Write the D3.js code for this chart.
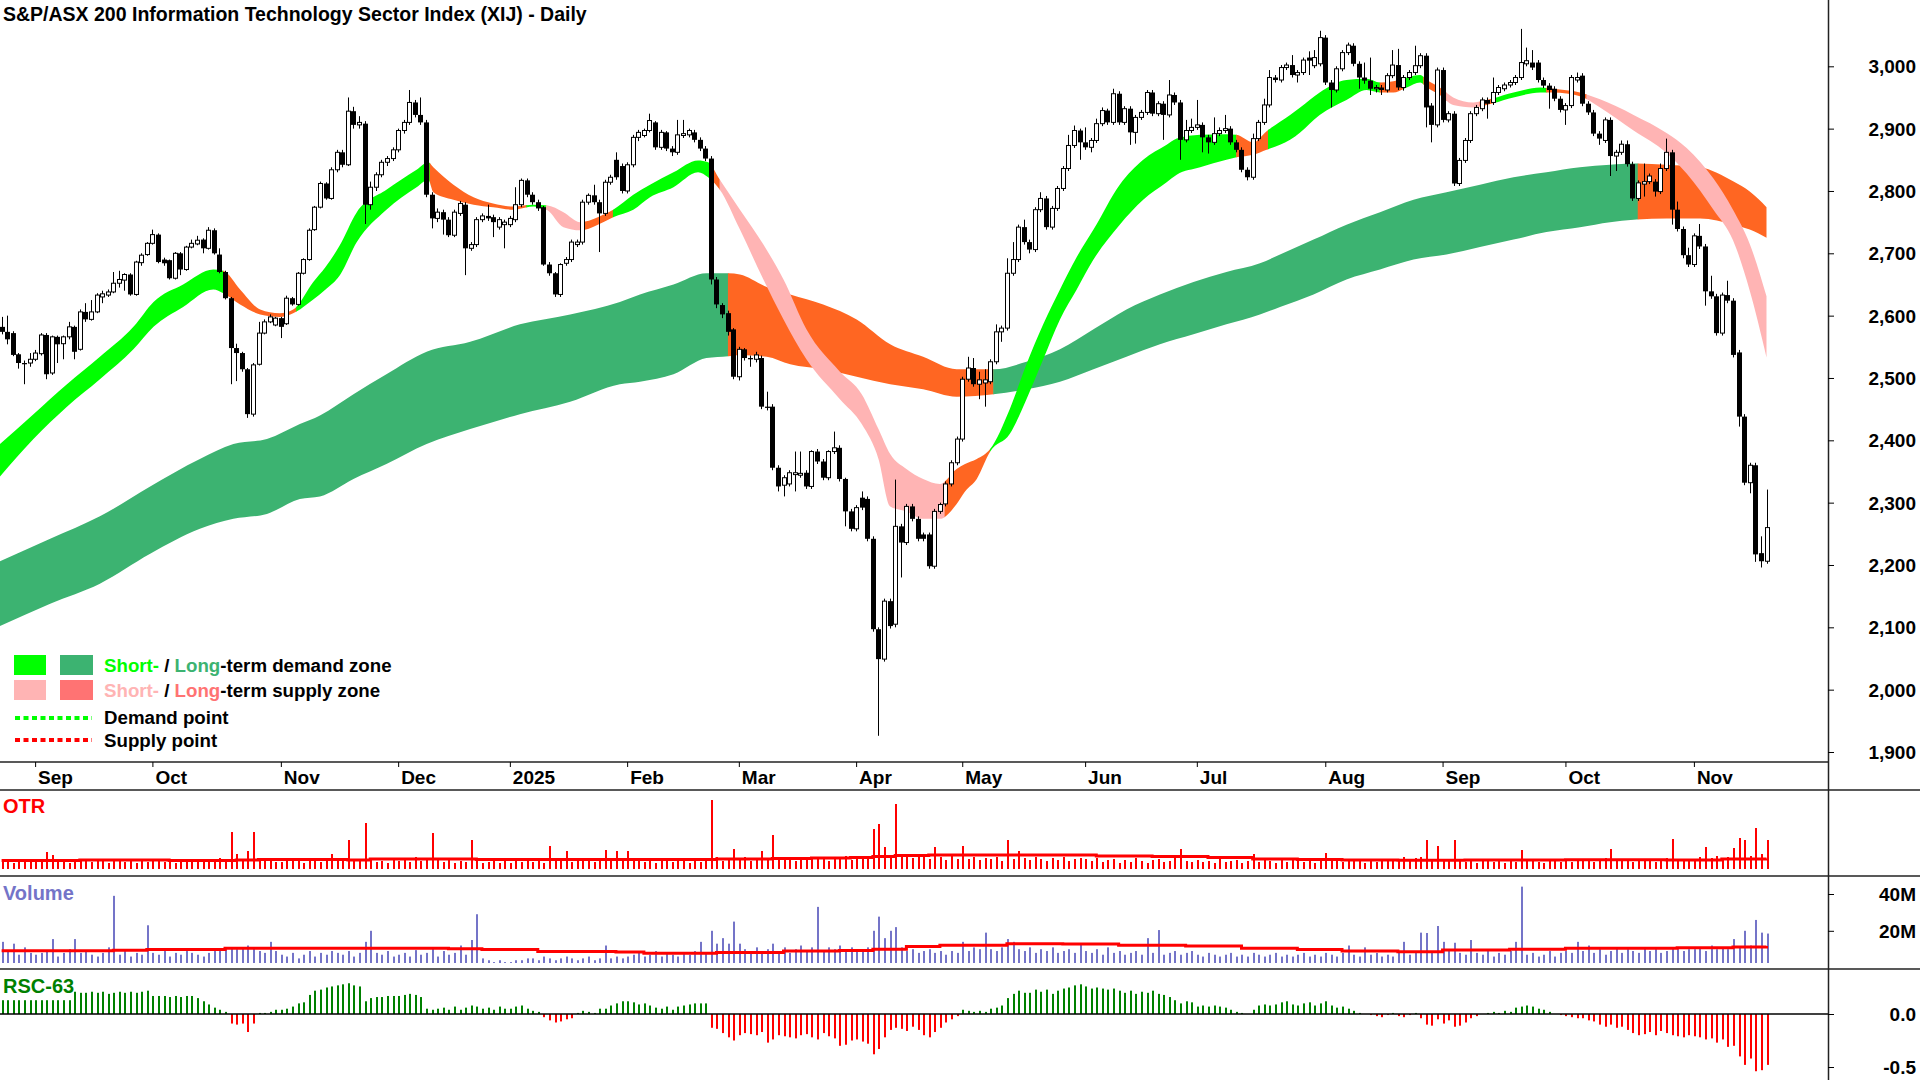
<!DOCTYPE html>
<html>
<head>
<meta charset="utf-8">
<title>S&amp;P/ASX 200 Information Technology Sector Index (XIJ) - Daily</title>
<script src="https://cdn.jsdelivr.net/npm/d3@7"></script>
<style>
  body { margin: 0; background: #fff; }
  svg { display: block; font-family: "Liberation Sans", Arial, sans-serif; }
</style>
</head>
<body>
<svg id="chart" width="1920" height="1080"></svg>
<script>
// trading months on the chart (first one is the tail of Aug 2024, no label)
var monthLabels = ["", "Sep", "Oct", "Nov", "Dec", "2025", "Feb", "Mar", "Apr", "May", "Jun", "Jul", "Aug", "Sep", "Oct", "Nov"];
var monthDays   = [6, 21, 23, 21, 20, 21, 20, 21, 19, 22, 20, 23, 21, 22, 23, 14];

// daily candles, one line per month
var opens = [
  2582,2574,2572,2538,2524,2524,
  2530,2539,2569,2508,2566,2555,2566,2582,2546,2606,2594,2606,2630,2633,2638,2652,2657,2666,2634,2685,2698,
  2716,2730,2690,2689,2660,2700,2674,2710,2715,2722,2708,2737,2698,2670,2628,2548,2540,2514,2442,2522,2572,2590,2585,
  2596,2587,2628,2618,2668,2690,2738,2774,2812,2788,2834,2862,2842,2928,2906,2908,2778,2806,2826,2846,2852,
  2866,2897,2910,2942,2922,2910,2794,2756,2766,2754,2729,2764,2778,2708,2714,2754,2760,2758,2742,2746,
  2746,2754,2778,2817,2794,2782,2774,2682,2668,2634,2684,2690,2714,2718,2782,2793,2782,2764,2814,2850,2840,
  2800,2842,2886,2889,2897,2910,2870,2894,2868,2862,2889,2890,2894,2882,2868,2852,2658,2617,2604,2578,
  2502,2546,2532,2530,2532,2454,2454,2356,2328,2330,2345,2344,2348,2326,2382,2366,2340,2382,2388,2338,2286,
  2258,2308,2306,2242,2097,2049,2142,2105,2262,2236,2294,2274,2249,2249,2198,2286,2298,2330,2364,
  2402,2498,2516,2490,2492,2494,2526,2574,2580,2668,2690,2742,2718,2706,2770,2788,2742,2772,2804,2836,2873,2897,
  2878,2870,2881,2908,2929,2910,2956,2910,2932,2894,2918,2926,2958,2924,2940,2922,2954,2942,2882,2897,
  2902,2906,2886,2878,2892,2897,2900,2878,2866,2834,2822,2884,2910,2938,2982,2978,2998,3002,2986,2990,3014,3001,3004,
  3046,2974,2962,2996,3022,3033,3004,2982,2977,2964,2966,2962,2985,3002,2966,2982,2990,3001,3017,2937,2906,
  2994,2914,2924,2812,2849,2881,2924,2932,2946,2942,2958,2964,2970,2974,2982,3004,3006,3006,2978,2969,2964,2948,
  2930,2937,2978,2985,2940,2926,2892,2881,2914,2856,2862,2875,2843,2788,2811,2815,2815,2799,2836,2862,2770,2739,2697,
  2682,2728,2711,2639,2631,2572,2633,2624,2541,2438,2332,2360,2219,2206
];
var highs = [
  2598,2600,2575,2540,2528,2540,
  2545,2572,2572,2568,2568,2568,2590,2584,2610,2620,2625,2636,2640,2642,2670,2672,2668,2668,2688,2700,2718,
  2738,2732,2693,2690,2702,2702,2712,2722,2728,2724,2742,2740,2708,2672,2630,2555,2542,2516,2524,2590,2594,2602,2598,
  2598,2632,2630,2670,2692,2740,2776,2815,2814,2838,2866,2866,2950,2935,2920,2912,2815,2830,2850,2856,2870,
  2900,2914,2962,2946,2950,2914,2798,2772,2770,2758,2770,2784,2782,2718,2758,2764,2778,2762,2758,2754,
  2760,2806,2820,2820,2798,2786,2776,2686,2670,2684,2694,2722,2722,2786,2796,2810,2786,2818,2826,2862,2844,
  2846,2890,2898,2900,2924,2912,2898,2896,2872,2914,2914,2900,2898,2886,2872,2856,2662,2620,2608,2580,
  2550,2548,2536,2542,2536,2478,2458,2360,2344,2352,2382,2382,2352,2384,2386,2370,2384,2414,2392,2340,2290,
  2296,2318,2310,2246,2100,2146,2146,2337,2266,2298,2298,2278,2252,2252,2290,2300,2334,2368,2406,
  2502,2534,2532,2510,2514,2530,2586,2584,2692,2718,2746,2754,2722,2774,2798,2792,2776,2808,2840,2890,2905,2900,
  2902,2885,2916,2934,2932,2964,2960,2936,2936,2922,2930,2962,2962,2944,2944,2978,2958,2946,2914,2916,
  2946,2910,2890,2918,2902,2922,2904,2882,2870,2838,2892,2914,2948,2994,2986,3002,3006,3018,2994,3014,3024,3026,3057,
  3050,2978,3000,3026,3038,3037,3008,3006,3014,2970,2970,2989,3026,3028,2986,2994,3033,3021,3021,2941,2998,
  2998,2928,2928,2853,2885,2928,2938,2950,2950,2982,2970,2974,2978,2986,3060,3030,3026,3010,2982,2973,2968,2952,
  2941,2986,2990,2989,2944,2930,2896,2918,2918,2866,2881,2881,2847,2817,2844,2828,2819,2844,2884,2866,2783,2743,2709,
  2732,2747,2715,2664,2635,2637,2656,2628,2545,2442,2364,2364,2246,2321
];
var lows = [
  2570,2554,2535,2515,2490,2518,
  2527,2536,2498,2505,2524,2530,2562,2530,2544,2590,2592,2604,2620,2630,2636,2645,2640,2632,2632,2680,2696,
  2714,2684,2680,2658,2658,2665,2672,2708,2713,2700,2706,2698,2668,2626,2490,2495,2510,2436,2438,2520,2570,2588,2583,
  2564,2585,2616,2616,2666,2688,2736,2772,2786,2786,2830,2838,2840,2900,2900,2747,2770,2800,2822,2840,2848,
  2862,2892,2906,2918,2906,2790,2740,2750,2730,2726,2726,2760,2665,2704,2710,2750,2752,2726,2738,2708,
  2742,2750,2774,2790,2778,2768,2680,2664,2630,2630,2680,2686,2710,2714,2778,2778,2702,2760,2810,2818,2796,
  2796,2838,2880,2886,2894,2866,2866,2864,2856,2858,2885,2886,2878,2864,2848,2650,2612,2596,2568,2498,
  2496,2528,2518,2525,2450,2448,2352,2318,2310,2326,2318,2340,2322,2322,2362,2336,2336,2378,2334,2262,2254,
  2254,2288,2238,2093,1926,2045,2098,2100,2180,2232,2270,2238,2238,2194,2194,2282,2294,2326,2360,
  2398,2494,2486,2466,2454,2490,2522,2558,2576,2664,2686,2714,2700,2702,2766,2738,2738,2768,2800,2832,2869,2850,
  2866,2862,2877,2904,2906,2906,2906,2906,2874,2876,2914,2922,2920,2920,2882,2918,2938,2850,2878,2893,
  2898,2862,2860,2874,2888,2893,2874,2862,2830,2817,2818,2880,2906,2934,2974,2974,2994,2982,2974,2986,2986,2997,3000,
  2970,2934,2958,2992,3018,3000,2964,2972,2954,2958,2954,2958,2981,2962,2961,2978,2986,2997,2902,2878,2902,
  2910,2910,2808,2808,2845,2877,2920,2928,2916,2938,2954,2960,2966,2970,2978,3000,2994,2974,2965,2932,2944,2926,
  2906,2933,2974,2936,2922,2888,2874,2877,2824,2832,2858,2839,2784,2784,2791,2811,2791,2795,2832,2746,2735,2692,2678,
  2678,2707,2616,2627,2568,2568,2620,2533,2422,2328,2315,2205,2196,2202
];
var closes = [
  2574,2562,2537,2524,2522,2530,
  2540,2569,2506,2566,2554,2566,2582,2542,2606,2594,2606,2633,2635,2638,2652,2658,2666,2634,2686,2697,2716,
  2730,2686,2684,2660,2700,2674,2710,2716,2721,2708,2737,2700,2670,2628,2548,2540,2514,2442,2521,2572,2590,2598,2596,
  2582,2628,2618,2668,2690,2737,2774,2812,2788,2834,2862,2842,2928,2906,2910,2778,2806,2826,2846,2852,2866,
  2897,2910,2942,2922,2910,2794,2756,2766,2754,2729,2766,2780,2708,2714,2754,2760,2756,2750,2754,2750,
  2756,2778,2817,2794,2782,2772,2682,2668,2634,2682,2690,2718,2718,2782,2793,2782,2764,2814,2822,2822,2800,
  2842,2886,2894,2897,2913,2870,2894,2868,2862,2890,2892,2897,2882,2868,2852,2658,2618,2602,2574,2502,
  2546,2532,2530,2537,2454,2452,2356,2326,2340,2348,2348,2347,2326,2382,2366,2340,2382,2388,2338,2286,2258,
  2292,2292,2242,2097,2049,2142,2102,2262,2236,2294,2274,2242,2242,2198,2286,2297,2330,2364,2402,
  2498,2516,2490,2497,2497,2526,2574,2580,2668,2690,2742,2718,2706,2770,2788,2742,2772,2804,2836,2873,2897,2878,
  2870,2881,2908,2929,2910,2956,2910,2932,2894,2918,2926,2958,2924,2940,2922,2954,2942,2882,2897,2902,
  2906,2886,2878,2892,2897,2900,2878,2866,2834,2822,2884,2910,2938,2982,2978,2998,3002,2986,2990,3010,3009,3014,3046,
  2974,2962,2996,3022,3034,3004,2982,2977,2964,2966,2962,2985,3002,2966,2982,2990,3001,3017,2934,2906,2994,
  2914,2924,2812,2849,2881,2924,2934,2946,2940,2958,2966,2970,2974,2982,3006,3009,2998,2978,2969,2962,2948,2930,
  2937,2982,2982,2940,2926,2892,2884,2914,2856,2862,2875,2843,2788,2813,2815,2824,2799,2836,2862,2770,2739,2697,2682,
  2728,2711,2639,2631,2572,2633,2624,2537,2438,2332,2360,2217,2206,2260
];

// short-term zone edges, read at a few bars
var shortIdx = [-0.3,5.7,11.7,17.6,23.6,27.2,32.5,37.9,39.7,42.7,46.3,49.8,52.2,55.8,58,60.5,63.6,68.9,74.3,76.4,77.3,80.9,84.5,88,91.6,95.2,97.6,100.6,103.6,107.7,109.5,113.1,116.1,
  120.3,124.7,126.5,128.6,132.2,136.4,140,144.1,150.1,154,157,159.1,162,165,168,171,172.5,174.6,177,180.5,183.5,186.5,189.5,192.5,195.5,200.2,204.4,208.6,210.4,214.6,219.3,221.1,224.1,226.5,230.7,
  232.5,236,240.8,244.4,246.8,249.2,251.6,254,255.2,257.5,259.9,263.5,265.9,270.7,275.5,277.8,282.6,286.2,292.2,298.1,301.7,306.5,310,313,316];
var shortTop = [2394,2442,2490,2534,2582,2622,2650,2674,2672,2642,2610,2604,2610,2654,2678,2712,2766,2802,2834,2846,2838,2810,2790,2780,2775,2778,2777,2766,2750,2762,2770,2794,2810,
  2830,2849,2846,2818,2770,2714,2658,2578,2510,2474,2418,2378,2354,2338,2330,2354,2362,2370,2386,2450,2522,2586,2642,2694,2738,2810,2850,2874,2884,2890,2891,2890,2878,2896,2922,
  2934,2958,2978,2980,2974,2976,2982,2986,2978,2966,2950,2942,2946,2958,2966,2964,2958,2947,2922,2893,2869,2820,2770,2715,2631];
var shortBottom = [2342,2402,2454,2498,2546,2582,2614,2642,2636,2618,2602,2598,2604,2626,2642,2664,2718,2770,2806,2818,2798,2786,2778,2774,2770,2775,2770,2742,2737,2750,2758,2770,2790,
  2806,2830,2822,2802,2738,2658,2594,2530,2466,2426,2370,2294,2286,2274,2274,2298,2318,2338,2382,2410,2466,2530,2594,2642,2690,2746,2786,2814,2826,2838,2850,2854,2858,2866,2882,
  2894,2922,2946,2962,2958,2958,2966,2974,2966,2954,2938,2934,2938,2950,2958,2958,2952,2934,2897,2861,2828,2770,2721,2640,2533];
// zone colour changes: d = demand, s = supply, m = mixed (orange)
var shortZoneFrom = [-1,39.7,52.8,76.7,94,97.5,104.4,109.5,126.8,128.6,168.9,177,221.1,226.8,246.8,251,254.6,258.7,264.7,267.1,276.6,283.8];
var shortZoneTo   = [39.7,52.8,76.7,94,97.5,104.4,109.5,126.8,128.6,168.9,177,221.1,226.8,246.8,251,254.6,258.7,264.7,267.1,276.6,283.8,317];
var shortZoneKind = ["d","m","d","m","d","s","m","d","m","s","m","d","m","d","m","d","m","s","m","d","m","s"];

// long-term zone edges
var longIdx = [-0.3,8.7,17.6,26.6,35.5,41.5,47.5,53.4,57,63,68.9,76.1,83.9,92.8,101.8,110.7,114.3,120.3,126.2,130.1,132.2,137,141.2,147.1,153.1,159.1,165,171,
  177.6,183.5,189.5,195.5,201.4,207.4,213.4,219.3,225.3,228.9,234.9,240.8,246.8,252.8,258.7,264.7,270.7,276.6,282.6,288,292.2,298.1,304.1,310.1,313,316];
var longTop = [2206,2242,2278,2326,2370,2394,2402,2426,2440,2474,2506,2542,2558,2586,2602,2622,2634,2650,2668,2668,2666,2646,2634,2618,2594,2554,2534,2514,
  2514,2526,2546,2578,2610,2634,2654,2670,2684,2698,2722,2746,2766,2786,2798,2810,2822,2830,2838,2842,2844,2842,2838,2815,2799,2774];
var longBottom = [2102,2138,2170,2218,2258,2274,2282,2306,2310,2338,2362,2394,2418,2442,2462,2490,2494,2506,2532,2535,2537,2534,2522,2514,2502,2490,2482,2470,
  2474,2482,2494,2514,2534,2554,2570,2586,2602,2614,2634,2658,2674,2690,2698,2710,2722,2734,2742,2750,2754,2756,2756,2746,2738,2725];
var longZoneFrom = [-1,130.1,177.6,293];
var longZoneTo   = [130.1,177.6,293,317];
var longZoneKind = ["d","m","d","m"];

// OTR (one value per bar)
var otr = [
  0.8,0.9,0.6,1.0,0.7,0.9,
  0.8,0.7,1.7,1.4,0.7,1.0,0.6,1.0,0.8,1.0,0.7,0.9,0.9,0.6,0.8,1.0,0.7,0.8,0.6,0.9,0.7,
  0.8,0.9,0.7,1.0,0.6,0.8,0.9,0.7,1.0,0.8,0.9,0.7,1.1,0.9,3.7,1.5,1.0,1.8,3.7,1.0,0.8,0.9,0.7,
  0.7,0.9,0.8,1.0,0.6,0.9,0.8,0.7,1.0,1.5,0.8,0.9,2.9,0.8,1.0,4.6,0.9,0.7,0.8,0.6,0.9,
  0.8,0.9,0.7,1.2,0.8,0.9,3.6,1.0,0.7,0.9,0.6,0.8,0.7,2.9,0.8,0.6,0.7,0.9,0.6,0.8,
  0.6,0.8,0.7,1.1,0.7,0.9,0.6,2.3,1.0,0.8,1.8,0.7,0.9,0.8,1.0,0.7,0.8,1.9,0.9,1.8,0.8,
  1.8,0.8,0.9,0.7,1.0,0.6,0.8,0.9,0.7,1.0,0.8,0.6,0.9,0.7,1.0,6.9,1.2,0.8,0.9,2.0,
  1.0,1.2,0.8,1.0,1.8,0.9,3.4,1.1,0.9,1.2,0.8,1.0,1.1,0.9,1.2,1.0,0.8,1.1,1.0,1.3,0.9,
  1.1,1.3,1.2,4.0,4.5,2.2,1.4,6.5,1.2,1.3,1.1,1.2,1.4,1.0,2.2,1.2,0.9,1.3,1.0,
  2.3,1.0,1.2,0.9,1.1,1.0,1.2,0.8,2.9,1.0,1.8,1.1,0.9,1.2,1.0,0.8,1.1,0.9,1.2,0.8,1.0,1.1,
  1.0,0.8,1.1,0.7,0.9,1.0,0.6,0.9,0.7,1.1,0.8,0.6,0.9,1.0,0.7,0.8,1.2,2.0,0.8,0.7,
  0.9,0.7,0.8,0.6,1.0,0.7,0.8,0.9,0.6,0.8,1.5,0.7,0.9,0.8,0.6,0.9,0.7,1.0,0.8,0.7,0.9,0.6,0.8,
  1.6,0.8,0.9,0.7,1.0,0.8,0.9,0.6,0.8,0.7,0.9,1.0,0.8,0.9,1.2,1.0,1.1,1.2,2.9,1.0,2.3,
  1.0,0.9,2.9,0.8,0.7,1.0,0.6,0.9,0.8,0.7,0.9,0.6,0.8,0.7,1.9,0.8,0.9,0.7,0.6,0.8,0.9,0.7,
  0.8,0.7,0.9,1.0,0.8,0.7,0.9,1.1,2.0,0.9,0.8,1.0,0.7,0.9,0.8,1.0,0.7,0.9,1.1,3.0,0.9,1.0,0.8,
  1.0,1.2,2.2,1.1,1.3,1.0,1.2,2.1,3.1,2.9,1.3,4.1,1.5,2.9
];
var otrAvgIdx = [0,14,30,42,46,62,66,78,85,98,112,128,138,145,152,156,160,166,180,196,206,216,224,232,240,250,262,280,298,308,316];
var otrAvg    = [0.85,0.9,0.85,0.9,0.95,0.9,1.0,1.0,0.95,0.95,0.95,1.0,1.05,1.1,1.15,1.25,1.35,1.4,1.4,1.3,1.25,1.15,1.0,0.95,0.9,0.88,0.9,0.92,0.9,1.0,1.05];

// volume, millions of shares per bar
var volume = [
  14,9,13,7,11,8,
  7,8,9,15.5,6,8,10,15.5,8,9,7,6,8,11,39,7,9,6,8,7,23,
  8,7,9,6,8,7,9,8,7,6,8,9,10,11,11,10,11,12,11,9,8,14,9,
  7,6,8,5,7,9,6,8,7,9,8,7,9,6,8,14,20,8,7,9,6,
  7,8,6,9.5,7,8,11,6,9,7,8,12,7,15,29,5,4,3,4,3,
  3,4,4,5,5,4,6,5,4,5,6,5,4,5,6,4,5,12,5,6,5,
  6,7,8,6,7,9,6,8,7,6,8,7,9,14,8,20,13,16,13,25,
  13,10,9,11,8,10,13,9,11,8,10,12,9,11,33,9,11,10,12,9,11,
  10,9,11,20,27.7,16,20,22,11,9,10,8,9,10,8,9,7,9,8,
  14,9,11,10,19,10,9,11,15.5,14,10,9,11,8,10,9,11,8,9,10,8,13,
  9,8,10,7,11,8,9,7,8,9,7,16,8,20.4,7,8,9,7,8,9,
  7,6,8,7,6,7,8,6,7,6,8,7,6,7,8,6,7,6,7,8,6,7,6,
  8,7,6,8,12,7,6,11,7,8,6,7,6,8,14,7,9,19,18.8,8,22.6,
  14,9,13.5,8,7,15,8,7,9,6,8,7,9,14,44,7,8,6,7,9,6,8,
  9,8,14,9,12,8,10,7,9,11,8,10,9,8,11,9,10,8,9,11,10,9,10,
  10,11,9,12,10,11,10,15.5,11,20,12,25.9,19,18.5
];
var volAvgIdx = [0,20,26,40,70,80,86,96,110,115,128,140,150,156,162,168,180,190,200,212,222,232,240,250,258,270,280,300,310,316];
var volAvg    = [9.2,9.4,9.8,10.5,10.5,10.2,9.8,8.7,8.5,7.8,8.2,9.0,9.3,10.0,11.5,12.2,13.0,12.8,12.2,11.8,10.5,9.8,9.0,8.6,9.5,10.0,10.5,10.8,11.2,11.8];

// RSC-63 per bar
var rsc = [
  0.13,0.13,0.13,0.13,0.13,0.13,
  0.13,0.13,0.13,0.13,0.13,0.13,0.13,0.21,0.20,0.20,0.21,0.20,0.21,0.19,0.20,0.21,0.20,0.21,0.20,0.21,0.22,
  0.17,0.17,0.17,0.16,0.17,0.16,0.17,0.17,0.15,0.12,0.09,0.06,0.04,0.02,-0.09,-0.1,-0.09,-0.17,-0.09,0.01,0.01,0.02,0.04,
  0.04,0.05,0.07,0.10,0.11,0.18,0.22,0.23,0.25,0.26,0.27,0.28,0.29,0.27,0.26,0.12,0.15,0.16,0.16,0.17,0.17,
  0.17,0.18,0.19,0.18,0.16,0.05,0.04,0.05,0.06,0.04,0.07,0.04,0.06,0.08,0.07,0.05,0.06,0.04,0.07,0.05,
  0.05,0.07,0.08,0.05,0.03,0.02,-0.03,-0.06,-0.08,-0.07,-0.05,-0.04,0.01,0.03,0.02,0.01,0.05,0.05,0.08,0.10,0.12,
  0.12,0.11,0.09,0.10,0.08,0.06,0.05,0.07,0.04,0.07,0.08,0.09,0.10,0.10,0.10,-0.13,-0.14,-0.18,-0.22,-0.25,
  -0.2,-0.18,-0.19,-0.2,-0.17,-0.27,-0.24,-0.2,-0.21,-0.22,-0.23,-0.2,-0.19,-0.22,-0.24,-0.18,-0.21,-0.23,-0.3,-0.29,-0.25,
  -0.24,-0.26,-0.28,-0.38,-0.33,-0.22,-0.15,-0.13,-0.14,-0.16,-0.12,-0.15,-0.2,-0.22,-0.17,-0.13,-0.08,-0.05,-0.02,
  0.04,0.03,0.02,0.03,0.02,0.05,0.06,0.08,0.15,0.19,0.22,0.2,0.2,0.23,0.21,0.23,0.19,0.22,0.24,0.25,0.27,0.28,
  0.26,0.24,0.25,0.24,0.23,0.24,0.22,0.2,0.22,0.19,0.21,0.2,0.22,0.19,0.18,0.16,0.13,0.1,0.12,0.11,
  0.07,0.08,0.07,0.08,0.07,0.06,0.04,0.02,0.01,0.0,0.04,0.08,0.09,0.08,0.09,0.11,0.12,0.09,0.08,0.10,0.11,0.08,0.10,
  0.12,0.08,0.06,0.07,0.05,0.03,0.01,0.0,-0.01,-0.02,-0.03,-0.01,0.01,-0.02,-0.03,-0.01,0.01,-0.04,-0.1,-0.11,-0.05,
  -0.09,-0.06,-0.12,-0.11,-0.08,-0.04,-0.02,0.0,0.01,0.02,0.01,0.03,0.02,0.06,0.07,0.08,0.07,0.05,0.04,0.02,0.0,-0.01,
  -0.02,-0.03,-0.04,-0.04,-0.06,-0.07,-0.1,-0.12,-0.1,-0.13,-0.12,-0.15,-0.18,-0.2,-0.19,-0.17,-0.2,-0.16,-0.18,-0.2,-0.21,-0.22,-0.2,
  -0.21,-0.22,-0.24,-0.23,-0.27,-0.24,-0.31,-0.3,-0.4,-0.48,-0.42,-0.54,-0.53,-0.48
];

var priceTicks = [1900,2000,2100,2200,2300,2400,2500,2600,2700,2800,2900,3000];
var volTicks = [20, 40];
var rscTicks = [0, -0.5];

var zoneColors = {
  short: {d: "#00ff00", s: "#ffb4b4", m: "#ff6622"},
  long:  {d: "#3cb371", s: "#ff7373", m: "#ff6622"}
};

var svg = d3.select("#chart");
var axisX = 1828, plotBottom = 762;
var n = closes.length;
if (opens.length !== n || otr.length !== n || volume.length !== n || rsc.length !== n) console.warn("length mismatch");

var x = d3.scaleLinear().domain([0, n - 1]).range([1.6, 1766.5]);
var y = d3.scaleLinear().domain([1900, 3000]).range([752, 66.3]);
var yOtr = d3.scaleLinear().domain([0, 7]).range([869, 799]);
var yVol = d3.scaleLinear().domain([2.5, 40]).range([963, 894]);
var yRsc = d3.scaleLinear().domain([-0.5, 0]).range([1067, 1014]);

var defs = svg.append("defs");
defs.append("clipPath").attr("id", "plotClip")
  .append("rect").attr("width", axisX).attr("height", plotBottom);
var plot = svg.append("g").attr("clip-path", "url(#plotClip)");

function drawZone(idx, top, bot, from, to, kind, colors, key) {
  var pts = idx.map(function(d, k) { return {i: d, t: top[k], b: bot[k]}; });
  var area = d3.area()
      .x(function(d) { return x(d.i); })
      .y0(function(d) { return y(d.b); })
      .y1(function(d) { return y(d.t); })
      .curve(d3.curveMonotoneX);
  var shape = area(pts);
  from.forEach(function(f, k) {
    var x0 = x(f) - 0.3, x1 = x(to[k]) + 0.3;
    defs.append("clipPath").attr("id", key + k)
      .append("rect").attr("x", x0).attr("y", 0).attr("width", x1 - x0).attr("height", plotBottom);
    plot.append("path").attr("d", shape).attr("fill", colors[kind[k]])
      .attr("clip-path", "url(#" + key + k + ")");
  });
}
drawZone(longIdx, longTop, longBottom, longZoneFrom, longZoneTo, longZoneKind, zoneColors.long, "lz");
drawZone(shortIdx, shortTop, shortBottom, shortZoneFrom, shortZoneTo, shortZoneKind, zoneColors.short, "sz");

// candles
var bars = d3.range(n);
var up = function(i) { return closes[i] >= opens[i]; };
var cx = function(i) { return Math.round(x(i)); };
var candles = plot.append("g");
candles.selectAll("line").data(bars).join("line")
  .attr("x1", function(i) { return cx(i) + 0.5; })
  .attr("x2", function(i) { return cx(i) + 0.5; })
  .attr("y1", function(i) { return y(highs[i]); })
  .attr("y2", function(i) { return y(lows[i]); })
  .attr("stroke", "#000").attr("stroke-width", 1);
candles.selectAll("rect").data(bars).join("rect")
  .attr("x", function(i) { return up(i) ? cx(i) - 1.5 : cx(i) - 2; })
  .attr("width", function(i) { return up(i) ? 4 : 5; })
  .attr("y", function(i) { return y(Math.max(opens[i], closes[i])); })
  .attr("height", function(i) { return Math.max(1, y(Math.min(opens[i], closes[i])) - y(Math.max(opens[i], closes[i]))); })
  .attr("fill", function(i) { return up(i) ? "#fff" : "#000"; })
  .attr("stroke", function(i) { return up(i) ? "#000" : "none"; })
  .attr("stroke-width", 1);

// title
svg.append("text").attr("x", 3).attr("y", 21)
  .attr("font-size", 19.5).attr("font-weight", "bold").attr("fill", "#000")
  .text("S&P/ASX 200 Information Technology Sector Index (XIJ) - Daily");

// legend
var lg = svg.append("g").attr("font-size", 18.7).attr("font-weight", "bold");
lg.append("rect").attr("x", 14).attr("y", 655).attr("width", 32).attr("height", 20).attr("fill", zoneColors.short.d);
lg.append("rect").attr("x", 60).attr("y", 655).attr("width", 33).attr("height", 20).attr("fill", zoneColors.long.d);
lg.append("rect").attr("x", 14).attr("y", 680).attr("width", 32).attr("height", 20).attr("fill", zoneColors.short.s);
lg.append("rect").attr("x", 60).attr("y", 680).attr("width", 33).attr("height", 20).attr("fill", zoneColors.long.s);
var t1 = lg.append("text").attr("x", 104).attr("y", 672);
t1.append("tspan").attr("fill", zoneColors.short.d).text("Short-");
t1.append("tspan").attr("fill", "#000").text(" / ");
t1.append("tspan").attr("fill", zoneColors.long.d).text("Long");
t1.append("tspan").attr("fill", "#000").text("-term demand zone");
var t2 = lg.append("text").attr("x", 104).attr("y", 697);
t2.append("tspan").attr("fill", zoneColors.short.s).text("Short-");
t2.append("tspan").attr("fill", "#000").text(" / ");
t2.append("tspan").attr("fill", zoneColors.long.s).text("Long");
t2.append("tspan").attr("fill", "#000").text("-term supply zone");
lg.append("line").attr("x1", 15).attr("x2", 92).attr("y1", 718).attr("y2", 718)
  .attr("stroke", "#00ff00").attr("stroke-width", 4).attr("stroke-dasharray", "5,3.5");
lg.append("line").attr("x1", 15).attr("x2", 92).attr("y1", 740).attr("y2", 740)
  .attr("stroke", "#ff0000").attr("stroke-width", 4).attr("stroke-dasharray", "5,3.5");
lg.append("text").attr("x", 104).attr("y", 724).attr("fill", "#000").text("Demand point");
lg.append("text").attr("x", 104).attr("y", 747).attr("fill", "#000").text("Supply point");

// OTR panel
svg.append("g").selectAll("rect").data(bars).join("rect")
  .attr("x", function(i) { return cx(i); }).attr("width", 2)
  .attr("y", function(i) { return yOtr(otr[i]); })
  .attr("height", function(i) { return yOtr(0) - yOtr(otr[i]); })
  .attr("fill", "#ff0000");
var otrLine = d3.line().x(function(d, k) { return x(otrAvgIdx[k]); }).y(function(d) { return yOtr(d); }).curve(d3.curveStepAfter);
svg.append("path").attr("d", otrLine(otrAvg)).attr("fill", "none").attr("stroke", "#ff0000").attr("stroke-width", 3);

// volume panel
svg.append("g").selectAll("rect").data(bars).join("rect")
  .attr("x", function(i) { return cx(i); }).attr("width", 2)
  .attr("y", function(i) { return yVol(volume[i]); })
  .attr("height", function(i) { return yVol(2.5) - yVol(volume[i]); })
  .attr("fill", "#7474c8");
var volLine = d3.line().x(function(d, k) { return x(volAvgIdx[k]); }).y(function(d) { return yVol(d); }).curve(d3.curveStepAfter);
svg.append("path").attr("d", volLine(volAvg)).attr("fill", "none").attr("stroke", "#ff0000").attr("stroke-width", 3);

// RSC panel
svg.append("g").selectAll("rect").data(bars).join("rect")
  .attr("x", function(i) { return cx(i); }).attr("width", 2)
  .attr("y", function(i) { return rsc[i] >= 0 ? yRsc(rsc[i]) : yRsc(0); })
  .attr("height", function(i) { return Math.abs(yRsc(rsc[i]) - yRsc(0)); })
  .attr("fill", function(i) { return rsc[i] >= 0 ? "#008000" : "#ff0000"; });
svg.append("line").attr("x1", 0).attr("x2", axisX).attr("y1", yRsc(0)).attr("y2", yRsc(0))
  .attr("stroke", "#000").attr("stroke-width", 1.5);

// panel titles
var pt = svg.append("g").attr("font-size", 20).attr("font-weight", "bold");
pt.append("text").attr("x", 3).attr("y", 813).attr("fill", "#ff0000").text("OTR");
pt.append("text").attr("x", 3).attr("y", 900).attr("fill", "#7474c8").text("Volume");
pt.append("text").attr("x", 3).attr("y", 993).attr("fill", "#008000").text("RSC-63");

// frame lines
var frame = svg.append("g").attr("stroke", "#222").attr("stroke-width", 1.5);
frame.append("line").attr("x1", 0).attr("x2", axisX).attr("y1", plotBottom).attr("y2", plotBottom);
[790, 876, 969].forEach(function(v) {
  frame.append("line").attr("x1", 0).attr("x2", 1920).attr("y1", v).attr("y2", v);
});
frame.append("line").attr("x1", axisX + 0.5).attr("x2", axisX + 0.5).attr("y1", 0).attr("y2", 1080);

// right axes
function styleAxis(g) {
  g.attr("font-size", 19).attr("font-family", null).attr("font-weight", "bold");
  g.select(".domain").remove();
  g.selectAll("text").attr("x", 88).attr("text-anchor", "end").attr("dy", "0.32em").attr("y", 0.5);
}
svg.append("g").attr("transform", "translate(" + axisX + ",0)")
  .call(d3.axisRight(y).tickValues(priceTicks).tickSize(6).tickFormat(d3.format(",")))
  .call(styleAxis);
svg.append("g").attr("transform", "translate(" + axisX + ",0)")
  .call(d3.axisRight(yVol).tickValues(volTicks).tickSize(6).tickFormat(function(d) { return d + "M"; }))
  .call(styleAxis);
svg.append("g").attr("transform", "translate(" + axisX + ",0)")
  .call(d3.axisRight(yRsc).tickValues(rscTicks).tickSize(6).tickFormat(function(d) { return d.toFixed(1); }))
  .call(styleAxis);

// date axis
var starts = [], k0 = 0;
monthDays.forEach(function(d, k) { if (monthLabels[k]) starts.push(k0); k0 += d; });
var labels = monthLabels.filter(function(d) { return d; });
svg.append("g").attr("transform", "translate(0," + plotBottom + ")")
  .call(d3.axisBottom(x).tickValues(starts).tickSize(5).tickFormat(function(d, k) { return labels[k]; }))
  .call(function(g) {
    g.attr("font-size", 19).attr("font-family", null).attr("font-weight", "bold");
    g.select(".domain").remove();
    g.selectAll("text").attr("x", 2.5).attr("y", 8.5).attr("text-anchor", "start");
  });
</script>
</body>
</html>
